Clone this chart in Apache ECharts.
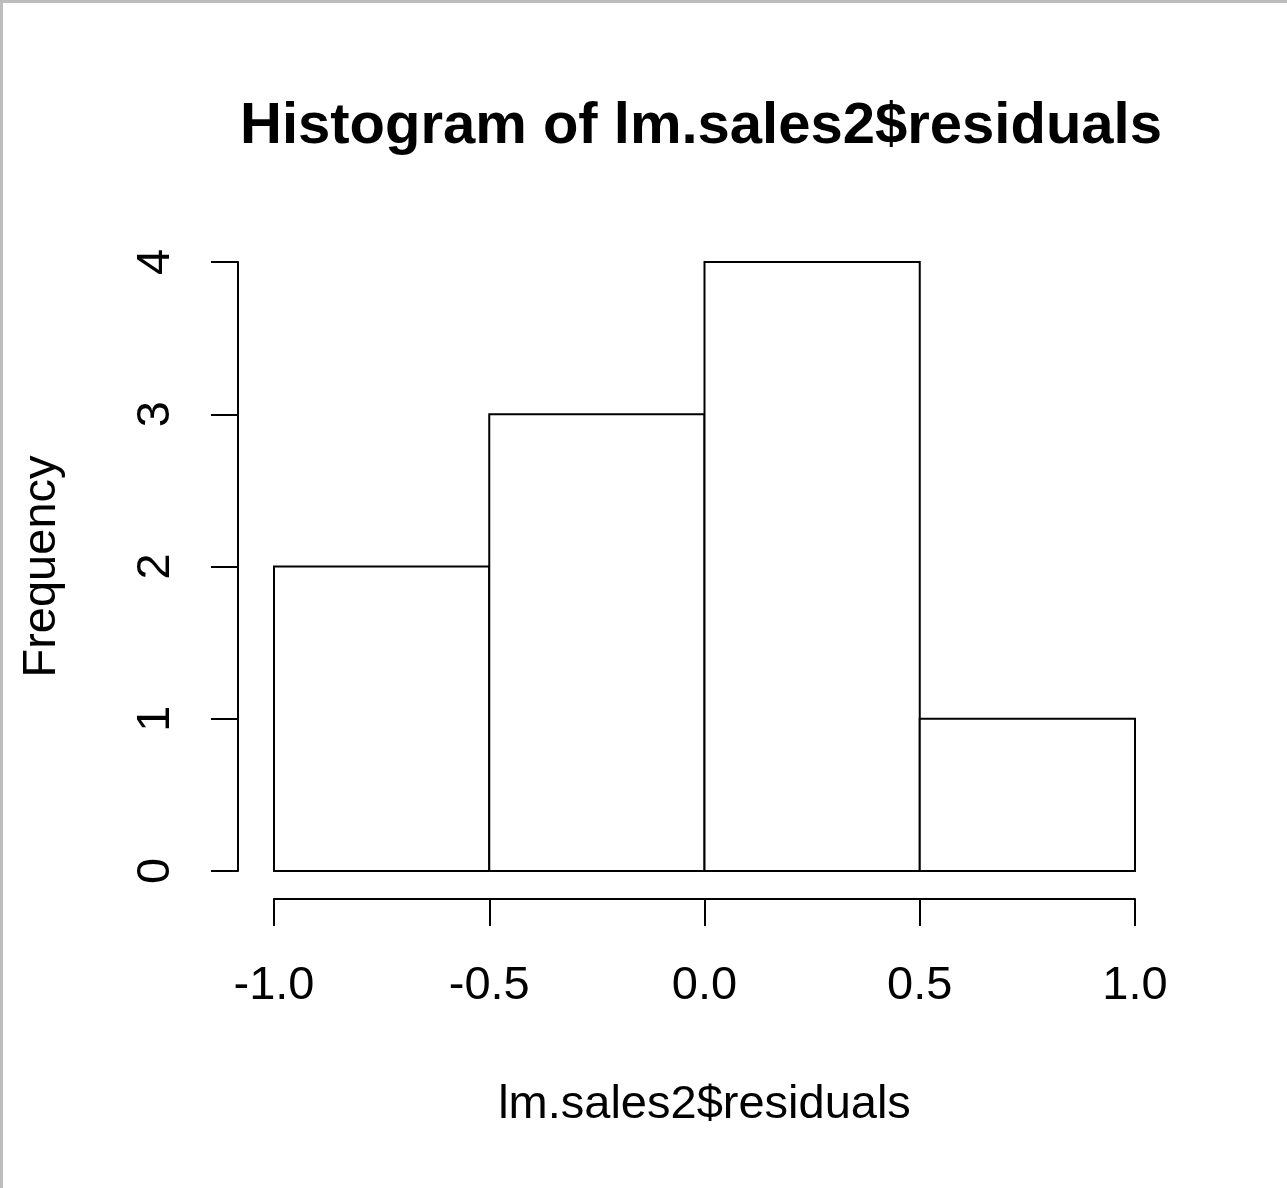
<!DOCTYPE html>
<html>
<head>
<meta charset="utf-8">
<script src="https://cdn.jsdelivr.net/npm/echarts@6/dist/echarts.min.js"></script>
<style>
  html, body { margin: 0; padding: 0; background: #fff; }
  #wrap { position: relative; width: 1287px; height: 1188px; overflow: hidden; background: #fff; }
  #chart { position: absolute; left: 0; top: 0; width: 1287px; height: 1188px; }
  #bt { position: absolute; left: 0; top: 0; width: 1287px; height: 3px; background: #bdbdbd; }
  #bl { position: absolute; left: 0; top: 0; width: 3px; height: 1188px; background: #bdbdbd; }
</style>
</head>
<body>
<div id="wrap">
  <div id="chart"></div>
  <div id="bt"></div>
  <div id="bl"></div>
</div>
<script>
// Histogram data
const breaks = [-1.0, -0.5, 0.0, 0.5, 1.0];
const counts = [2, 3, 4, 1];
const titleText = 'Histogram of lm.sales2$residuals';
const xLabel = 'lm.sales2$residuals';
const yLabel = 'Frequency';

const bins = counts.map((c, i) => [breaks[i], breaks[i + 1], c]);

const FONT = '"Liberation Sans", Arial, sans-serif';
const chart = echarts.init(document.getElementById('chart'), null, { renderer: 'canvas' });

chart.setOption({
  backgroundColor: '#ffffff',
  animation: false,
  title: {
    text: titleText,
    left: 240,
    top: 98,
    padding: 0,
    textStyle: { fontFamily: FONT, fontSize: 58, fontWeight: 'bold', color: '#000', lineHeight: 58 }
  },
  grid: { left: 274, right: 152, top: 262, bottom: 317, containLabel: false },
  xAxis: {
    type: 'value',
    min: breaks[0],
    max: breaks[breaks.length - 1],
    interval: 0.5,
    offset: 28,
    name: xLabel,
    nameLocation: 'middle',
    nameGap: 183,
    nameTextStyle: { fontFamily: FONT, fontSize: 47, color: '#000', lineHeight: 47 },
    axisLine: { show: true, onZero: false, lineStyle: { color: '#000', width: 2 } },
    axisTick: { show: true, length: 27, lineStyle: { color: '#000', width: 2 } },
    axisLabel: {
      margin: 64,
      fontFamily: FONT, fontSize: 47, color: '#000', lineHeight: 47,
      formatter: v => v.toFixed(1)
    },
    splitLine: { show: false }
  },
  yAxis: {
    type: 'value',
    min: 0,
    max: 4,
    interval: 1,
    offset: 36,
    name: yLabel,
    nameLocation: 'middle',
    nameGap: 172,
    nameRotate: 90,
    nameTextStyle: { fontFamily: FONT, fontSize: 47, color: '#000', lineHeight: 47 },
    axisLine: { show: true, onZero: false, lineStyle: { color: '#000', width: 2 } },
    axisTick: { show: true, length: 27, lineStyle: { color: '#000', width: 2 } },
    axisLabel: {
      rotate: 90,
      margin: 58,
      fontFamily: FONT, fontSize: 47, color: '#000', lineHeight: 47
    },
    splitLine: { show: false }
  },
  series: [{
    type: 'custom',
    data: bins,
    encode: { x: [0, 1], y: 2 },
    renderItem: function (params, api) {
      const x0 = api.value(0), x1 = api.value(1), c = api.value(2);
      const p0 = api.coord([x0, c]);
      const p1 = api.coord([x1, 0]);
      return {
        type: 'rect',
        shape: { x: p0[0], y: p0[1], width: p1[0] - p0[0], height: p1[1] - p0[1] },
        style: { fill: '#ffffff', stroke: '#000000', lineWidth: 2 }
      };
    }
  }]
});
</script>
</body>
</html>
